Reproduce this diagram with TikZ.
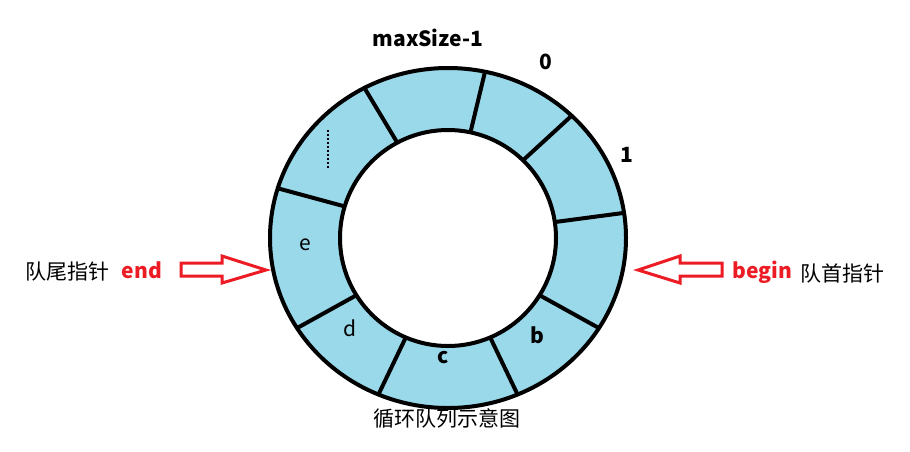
\documentclass[tikz,border=0pt]{standalone}
\usepackage{fontspec}
\setmainfont{Noto Sans CJK SC}
\definecolor{ringblue}{RGB}{153,217,234}
\definecolor{arrred}{RGB}{237,28,36}
\begin{document}
\begin{tikzpicture}[x=1pt,y=-1pt,
  lbl/.style={font=\fontsize{21}{24}\selectfont,inner sep=0pt},
  blbl/.style={lbl,font=\fontsize{21}{24}\selectfont\bfseries},
  redlbl/.style={blbl,text=arrred},
  hollow/.style={draw=arrred,line width=3pt,line join=miter}]
\useasboundingbox (0,0) rectangle (910,451);
\fill[ringblue,even odd rule] (448,238) ellipse [x radius=178,y radius=170] (448,238) ellipse [x radius=108,y radius=108];
\draw[line width=4pt] (448,238) ellipse [x radius=178,y radius=170];
\draw[line width=4pt] (448,238) ellipse [x radius=108,y radius=108];
\foreach \t in {118,78,46,8.5,-32,-67,-113,-148,163}{
  \draw[line width=4pt] ({448+108*cos(\t)},{238-108*sin(\t)}) -- ({448+178*cos(\t)},{238-170*sin(\t)});
}
\node[blbl] (ms) at (428,38) {maxSize-1};
\node[blbl] (z) at (546,62) {0};
\node[blbl] (o) at (627,155) {1};
\node[lbl] (e) at (305,245) {e};
\node[lbl] (d) at (350,328) {d};
\node[blbl] (c) at (443,358) {c};
\node[blbl] (b) at (537,335) {b};
\draw[line width=1.5pt,dash pattern=on 1.5pt off 2.5pt] (328,130) -- (328,168);
\node[lbl] (cap) at (447,418) {循环队列示意图};
\node[lbl] (tail) at (67,272) {队尾指针};
\node[redlbl] (end) at (142,270) {end};
\node[redlbl] (beg) at (762,272) {begin};
\node[lbl] (head) at (842,273) {队首指针};
\draw[hollow] (181,263) -- (222,263) -- (222,256) -- (266,270) -- (222,283) -- (222,276) -- (181,276) -- cycle;
\draw[hollow] (722,263) -- (680,263) -- (680,256) -- (638,270) -- (680,283) -- (680,276) -- (722,276) -- cycle;
\end{tikzpicture}
\end{document}
